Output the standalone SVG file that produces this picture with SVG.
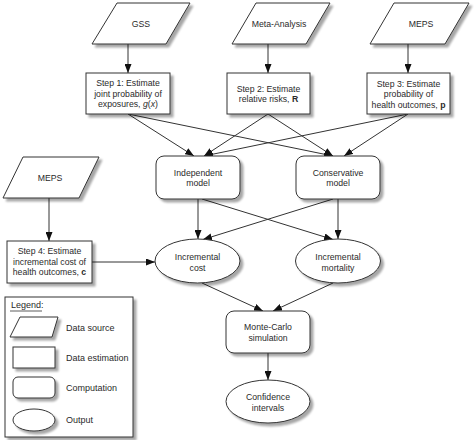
<svg xmlns="http://www.w3.org/2000/svg" width="474" height="440" viewBox="0 0 474 440">
<defs>
<filter id="sh" x="-20%" y="-20%" width="150%" height="150%">
<feGaussianBlur in="SourceAlpha" stdDeviation="1"/>
<feOffset dx="2.5" dy="2.5" result="b"/>
<feComponentTransfer><feFuncA type="linear" slope="0.35"/></feComponentTransfer>
<feMerge><feMergeNode/><feMergeNode in="SourceGraphic"/></feMerge>
</filter>
<marker id="ar" markerUnits="userSpaceOnUse" markerWidth="9" markerHeight="7" refX="9" refY="3.5" orient="auto">
<path d="M0,0 L9,3.5 L0,7 z" fill="#111"/>
</marker>
<style>
.s{fill:#fff;stroke:#333;stroke-width:1;filter:url(#sh)}
.t{font-family:"Liberation Sans",Arial,sans-serif;font-size:8.7px;fill:#2a2a2a;text-anchor:middle}
.l{font-family:"Liberation Sans",Arial,sans-serif;font-size:9px;fill:#2a2a2a}
.c{fill:none;stroke:#333;stroke-width:1;marker-end:url(#ar)}
</style>
</defs>
<rect width="474" height="440" fill="#fff"/>
<g id="connectors">
<line class="c" x1="128" y1="44" x2="128" y2="73"/>
<line class="c" x1="268" y1="44" x2="268" y2="73"/>
<line class="c" x1="408" y1="44" x2="408" y2="73"/>
<line class="c" x1="128" y1="114" x2="194" y2="156"/>
<line class="c" x1="128" y1="114" x2="333" y2="156"/>
<line class="c" x1="268" y1="114" x2="204" y2="156"/>
<line class="c" x1="268" y1="114" x2="333" y2="156"/>
<line class="c" x1="408" y1="114" x2="204" y2="156"/>
<line class="c" x1="408" y1="114" x2="344" y2="156"/>
<line class="c" x1="198" y1="199" x2="198" y2="239"/>
<line class="c" x1="202" y1="199" x2="333" y2="239.5"/>
<line class="c" x1="338" y1="199" x2="338" y2="239"/>
<line class="c" x1="333" y1="199" x2="203" y2="239.5"/>
<line class="c" x1="49" y1="198" x2="49" y2="241"/>
<line class="c" x1="92" y1="262" x2="155" y2="262"/>
<line class="c" x1="202" y1="283" x2="263" y2="311"/>
<line class="c" x1="333" y1="283" x2="273" y2="311"/>
<line class="c" x1="268" y1="353" x2="268" y2="380"/>
</g>
<g id="gss">
<polygon class="s" points="117,3 190,3 166,44 92,44"/>
<text class="t" x="141" y="27">GSS</text>
</g>
<g id="meta">
<polygon class="s" points="256,3 330,3 306,44 232,44"/>
<text class="t" x="279" y="27">Meta-Analysis</text>
</g>
<g id="meps1">
<polygon class="s" points="394,3 469,3 445,44 370,44"/>
<text class="t" x="421" y="27">MEPS</text>
</g>
<g id="step1">
<rect class="s" x="86" y="73" width="84" height="41"/>
<text class="t" x="128" y="86">Step 1: Estimate</text>
<text class="t" x="128" y="96.5">joint probability of</text>
<text class="t" x="128" y="107">exposures, <tspan font-style="italic">g</tspan>(<tspan font-style="italic">x</tspan>)</text>
</g>
<g id="step2">
<rect class="s" x="227" y="73" width="83" height="41"/>
<text class="t" x="268.5" y="91.5">Step 2: Estimate</text>
<text class="t" x="268.5" y="102">relative risks, <tspan font-weight="bold">R</tspan></text>
</g>
<g id="step3">
<rect class="s" x="367" y="73" width="83" height="41"/>
<text class="t" x="408.5" y="86.5">Step 3: Estimate</text>
<text class="t" x="408.5" y="97">probability of</text>
<text class="t" x="408.5" y="107.5">health outcomes, <tspan font-weight="bold">p</tspan></text>
</g>
<g id="indep">
<rect class="s" x="156" y="156" width="84" height="43" rx="8"/>
<text class="t" x="198" y="175.5">Independent</text>
<text class="t" x="198" y="186">model</text>
</g>
<g id="cons">
<rect class="s" x="296" y="156" width="84" height="43" rx="8"/>
<text class="t" x="338" y="175.5">Conservative</text>
<text class="t" x="338" y="186">model</text>
</g>
<g id="meps2">
<polygon class="s" points="23,157 99,157 79,198 3,198"/>
<text class="t" x="50" y="181">MEPS</text>
</g>
<g id="step4">
<rect class="s" x="7" y="241" width="85" height="42"/>
<text class="t" x="49.5" y="254">Step 4: Estimate</text>
<text class="t" x="49.5" y="264.5">incremental cost of</text>
<text class="t" x="49.5" y="275">health outcomes, <tspan font-weight="bold">c</tspan></text>
</g>
<g id="inccost">
<ellipse class="s" cx="197.5" cy="261" rx="42.5" ry="22"/>
<text class="t" x="197.5" y="260">Incremental</text>
<text class="t" x="197.5" y="270.5">cost</text>
</g>
<g id="incmort">
<ellipse class="s" cx="338" cy="261" rx="42.5" ry="22"/>
<text class="t" x="338" y="260">Incremental</text>
<text class="t" x="338" y="270.5">mortality</text>
</g>
<g id="montecarlo">
<rect class="s" x="226" y="311" width="84" height="42" rx="8"/>
<text class="t" x="268" y="330">Monte-Carlo</text>
<text class="t" x="268" y="340.5">simulation</text>
</g>
<g id="confidence">
<ellipse class="s" cx="268" cy="401.5" rx="42" ry="21.5"/>
<text class="t" x="268" y="400">Confidence</text>
<text class="t" x="268" y="411">intervals</text>
</g>
<g id="legend">
<rect class="s" x="5" y="297" width="128" height="140"/>
<text class="l" x="11" y="308">Legend:</text>
<line x1="10" y1="311" x2="42" y2="311" stroke="#333" stroke-width="0.8"/>
<polygon class="s" points="20,317 58,317 52,337 10,337"/>
<text class="l" x="66" y="331">Data source</text>
<rect class="s" x="13" y="347" width="42" height="21"/>
<text class="l" x="66" y="361">Data estimation</text>
<rect class="s" x="13" y="377" width="42" height="21" rx="5"/>
<text class="l" x="66" y="391">Computation</text>
<ellipse class="s" cx="34" cy="420" rx="21" ry="11"/>
<text class="l" x="66" y="423">Output</text>
</g>
</svg>
